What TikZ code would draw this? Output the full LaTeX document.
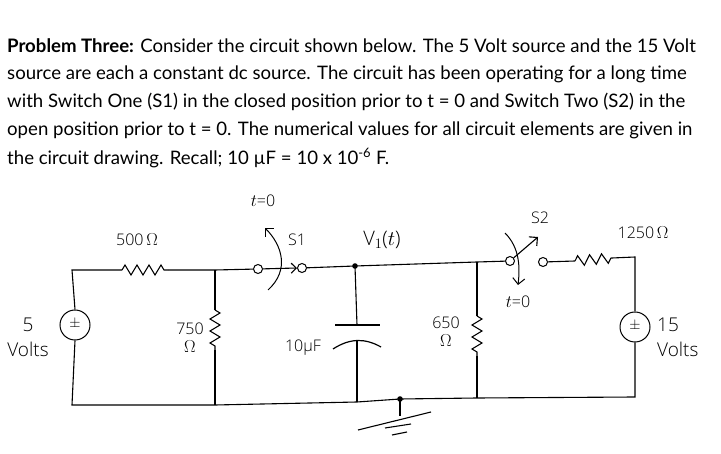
\documentclass[tikz,border=0pt]{standalone}
\usepackage{fontspec}
\setmainfont{Lato}
\newfontfamily\hand{Open Sans Light}
\usetikzlibrary{decorations.pathmorphing,arrows.meta}
\begin{document}
\begin{tikzpicture}[x=1pt,y=-1pt,
 txt/.style={anchor=west,inner sep=0,font=\fontsize{18.6}{22}\selectfont},
 lab/.style={inner sep=0,font=\hand\fontsize{16}{18}\selectfont},
 w/.style={line width=1.1pt},
 res/.style={w,decorate,decoration={zigzag,segment length=12pt,amplitude=5pt}},
 term/.style={circle,draw,line width=1pt,inner sep=0,minimum size=9pt,fill=white}]
\useasboundingbox (0,0) rectangle (721,454);
\node[txt] (l1) at (7,46) {\textbf{Problem Three:} Consider the circuit shown below. The 5 Volt source and the 15 Volt};
\node[txt] (l2) at (7,74) {source are each a constant dc source. The circuit has been operating for a long time};
\node[txt] (l3) at (7,102) {with Switch One (S1) in the closed position prior to t = 0 and Switch Two (S2) in the};
\node[txt] (l4) at (7,130) {open position prior to t = 0. The numerical values for all circuit elements are given in};
\node[txt] (l5) at (7,158) {the circuit drawing. Recall; 10 µF = 10 x 10\textsuperscript{-6} F.};
% nodes
\coordinate (tl) at (72,270); \coordinate (bl) at (72,405);
\coordinate (r1a) at (122,270); \coordinate (r1b) at (168,270);
\coordinate (j1) at (215,270); \coordinate (j1b) at (215,405);
\node[term] (s1a) at (258,269) {};
\node[term] (s1b) at (302,268) {};
\coordinate (v1) at (355,266); \coordinate (capb) at (357,402);
\coordinate (j2) at (477,262); \coordinate (j2b) at (477,398);
\node[term] (s2a) at (510,261) {};
\node[term] (s2b) at (543,262) {};
\coordinate (r2a) at (575,261); \coordinate (r2b) at (612,258);
\coordinate (tr) at (635,257); \coordinate (br) at (635,397);
\coordinate (gnd) at (400,399);
\node[circle,draw,line width=1pt,minimum size=30pt,inner sep=0] (src1) at (75,325) {};
\node[circle,draw,line width=1pt,minimum size=30pt,inner sep=0] (src2) at (635,327) {};
\node[font=\hand\fontsize{14}{14}\selectfont,inner sep=0] (p1) at (75,324) {$\pm$};
\node[font=\hand\fontsize{14}{14}\selectfont,inner sep=0] (p2) at (635,326) {$\pm$};
% wires
\draw[w] (src1.north) -- (tl) -- (r1a);
\draw[res] (r1a) -- (r1b);
\draw[w] (r1b) -- (j1) -- (s1a);
\draw[w] (src1.south) -- (bl) -- (j1b) -- (capb) -- (gnd) -- (j2b) -- (br) -- (src2.south);
\draw[w] (j1) -- (215,310); \draw[res] (215,310) -- (215,350); \draw[w] (215,350) -- (j1b);
\draw[w] (s1b) -- (v1) -- (j2) -- (s2a);
\draw[w] (v1) -- (357,325);
\draw[line width=1.2pt] (335,325) -- (380,325);
\draw[line width=1.2pt] (333,349) .. controls (350,338) and (365,338) .. (381,347);
\draw[w] (357,341) -- (capb);
\draw[w] (j2) -- (477,316); \draw[res] (477,316) -- (477,356); \draw[w] (477,356) -- (j2b);
\draw[w] (s2b) -- (r2a); \draw[res] (r2a) -- (r2b); \draw[w] (r2b) -- (tr) -- (src2.north);
\fill (v1) circle (2.8pt); \fill (gnd) circle (2.8pt);
% ground
\draw[w] (gnd) -- (400,416);
\draw[w] (358,430) -- (431,412);
\draw[w] (385,428) -- (411,424);
\draw[w] (392,435) -- (407,432);
% switch arms
\draw[w,-{Straight Barb[length=5pt]}] (s1a) -- (297,268);
\draw[line width=1pt,-{Straight Barb[length=6pt]}] (268,290) .. controls (290,270) and (282,245) .. (265,228);
\draw[w,-{Straight Barb[length=6pt]}] (s2a) -- (538,237);
\draw[line width=1pt,-{Straight Barb[length=6pt]}] (505,233) .. controls (520,248) and (520,268) .. (518,285);
% labels
\node[lab] (t1) at (263,201) {$t$=0};
\node[lab] (ls1) at (297,240) {S1};
\node[lab] (lv) at (382,240) {\fontsize{20}{20}\selectfont V$_1$($t$)};
\node[lab] (l500) at (137,240) {500\,$\Omega$};
\node[lab,align=center] (l750) at (190,338) {750\\$\Omega$};
\node[lab] (l10) at (303,348) {10µF};
\node[lab,align=center] (l650) at (446,332) {650\\$\Omega$};
\node[lab] (ls2) at (540,218) {S2};
\node[lab] (l1250) at (643,233) {1250\,$\Omega$};
\node[lab] (t2) at (518,302) {$t$=0};
\node[lab,align=center,font=\hand\fontsize{19}{25}\selectfont] (v5) at (28,337) {5\\Volts};
\node[lab,align=left,anchor=west,font=\hand\fontsize{19}{25}\selectfont] (v15) at (657,337) {15\\Volts};
\end{tikzpicture}
\end{document}
